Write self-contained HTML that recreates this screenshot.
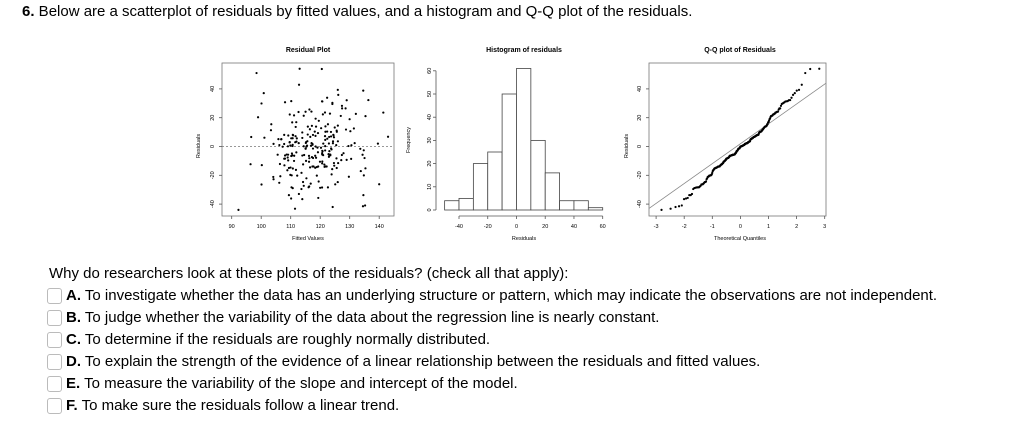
<!DOCTYPE html>
<html><head><meta charset="utf-8">
<style>
body{margin:0;width:1024px;height:436px;background:#fff;font-family:"Liberation Sans",Arial,sans-serif;color:#000;position:relative;overflow:hidden}
.t{position:absolute;white-space:nowrap}
.cb{position:absolute;left:47px;width:13px;height:14px;border:1px solid #bbb;border-radius:3px;background:#fff}
svg{position:absolute;left:0;top:0}
</style></head><body>
<div class="t" style="left:22px;top:3px;font-size:15px;"><b>6.</b> Below are a scatterplot of residuals by fitted values, and a histogram and Q-Q plot of the residuals.</div>
<div class="t" style="left:49px;top:265px;font-size:15px;">Why do researchers look at these plots of the residuals? (check all that apply):</div>
<div class="cb" style="top:288px"></div><div class="t" style="left:66px;top:287px;font-size:15px;"><b>A.</b> To investigate whether the data has an underlying structure or pattern, which may indicate the observations are not independent.</div>
<div class="cb" style="top:310px"></div><div class="t" style="left:66px;top:309px;font-size:15px;"><b>B.</b> To judge whether the variability of the data about the regression line is nearly constant.</div>
<div class="cb" style="top:332px"></div><div class="t" style="left:66px;top:331px;font-size:15px;"><b>C.</b> To determine if the residuals are roughly normally distributed.</div>
<div class="cb" style="top:354px"></div><div class="t" style="left:66px;top:353px;font-size:15px;"><b>D.</b> To explain the strength of the evidence of a linear relationship between the residuals and fitted values.</div>
<div class="cb" style="top:376px"></div><div class="t" style="left:66px;top:375px;font-size:15px;"><b>E.</b> To measure the variability of the slope and intercept of the model.</div>
<div class="cb" style="top:398px"></div><div class="t" style="left:66px;top:397px;font-size:15px;"><b>F.</b> To make sure the residuals follow a linear trend.</div>
<svg id="s" width="1024" height="260" font-family="Liberation Sans, Arial, sans-serif"></svg>
<script>
var S=document.getElementById('s'),h='';
function T(x,y,s,fs,extra){h+='<text x="'+x+'" y="'+y+'" font-size="'+fs+'" text-anchor="middle" '+(extra||'')+'>'+s+'</text>';}
function L(a,b,c,d,st){h+='<line x1="'+a+'" y1="'+b+'" x2="'+c+'" y2="'+d+'" stroke="'+(st||'#555')+'" stroke-width="0.8"/>';}
var seed=7;function R(){seed=(seed*16807)%2147483647;return (seed-1)/2147483646;}
function N(){var u=R()||1e-9,v=R();return Math.sqrt(-2*Math.log(u))*Math.cos(2*Math.PI*v);}
var n=250,fv=[],rs=[];
for(var i=0;i<n;i++){fv.push(118+9.5*N());var r=17.5*N();r=Math.max(-44,Math.min(54,r));rs.push(r);}
var fx=function(v){return 231.7+(v-90)*2.95},ry=function(v){return 146.5-v*1.44};
T(308,52,'Residual Plot',7,'font-weight="bold"');
h+='<rect x="222" y="63" width="172" height="153" fill="none" stroke="#777" stroke-width="0.8"/>';
h+='<line x1="222" y1="146.5" x2="394" y2="146.5" stroke="#777" stroke-width="0.8" stroke-dasharray="2,2"/>';
[90,100,110,120,130,140].forEach(function(v){var x=fx(v);L(x,216,x,219);T(x,228,v,5.5);});
[-40,-20,0,20,40].forEach(function(v){var y=ry(v);L(219,y,222,y);h+='<text x="212" y="'+y+'" font-size="5.5" text-anchor="middle" transform="rotate(-90 212 '+y+')" dy="2">'+v+'</text>';});
T(308,240,'Fitted Values',5.5);h+='<text x="200" y="146" font-size="5.5" text-anchor="middle" transform="rotate(-90 200 146)">Residuals</text>';
for(i=0;i<n;i++){var x=fx(Math.max(88,Math.min(143,fv[i])));h+='<circle cx="'+x+'" cy="'+ry(rs[i])+'" r="1.1"/>';}
var cnt=[4,5,20,25,50,61,30,16,4,4,1];
var hx=function(v){return 459+(v+40)*1.437},hy=function(v){return 210-v*2.32};
T(524,52,'Histogram of residuals',7,'font-weight="bold"');
for(i=0;i<11;i++){var x0=hx(-50+i*10);h+='<rect x="'+x0+'" y="'+hy(cnt[i])+'" width="14.37" height="'+(cnt[i]*2.32)+'" fill="#fff" stroke="#444" stroke-width="0.8"/>';}
L(hx(-40),216,hx(60),216);
[-40,-20,0,20,40,60].forEach(function(v){var x=hx(v);L(x,216,x,219);T(x,228,v,5.5);});
L(436,210,436,hy(60));
[0,10,20,30,40,50,60].forEach(function(v){var y=hy(v);L(433,y,436,y);h+='<text x="429" y="'+y+'" font-size="5.5" text-anchor="middle" transform="rotate(-90 429 '+y+')" dy="2">'+v+'</text>';});
T(524,240,'Residuals',5.5);h+='<text x="410" y="140" font-size="5.5" text-anchor="middle" transform="rotate(-90 410 140)">Frequency</text>';
var qx=function(v){return 740.4+v*28.1};
T(740,52,'Q-Q plot of Residuals',7,'font-weight="bold"');
h+='<rect x="649" y="63" width="177" height="153" fill="none" stroke="#777" stroke-width="0.8"/>';
[-3,-2,-1,0,1,2,3].forEach(function(v){var x=qx(v);L(x,216,x,219);T(x,228,v,5.5);});
[-40,-20,0,20,40].forEach(function(v){var y=ry(v);L(646,y,649,y);h+='<text x="639" y="'+y+'" font-size="5.5" text-anchor="middle" transform="rotate(-90 639 '+y+')" dy="2">'+v+'</text>';});
T(740,240,'Theoretical Quantiles',5.5);h+='<text x="628" y="146" font-size="5.5" text-anchor="middle" transform="rotate(-90 628 146)">Residuals</text>';
h+='<line x1="649" y1="'+ry(-43)+'" x2="826" y2="'+ry(44)+'" stroke="#888" stroke-width="0.8"/>';
function qn(p){var a=[-39.696830,220.946098,-275.928510,138.357751,-30.664798,2.506628],b=[-54.476098,161.585836,-155.698979,66.801311,-13.280681],c=[-0.007784894,-0.322396,-2.400758,-2.549732,4.374664,2.938163],d=[0.007784695,0.322467,2.445134,3.754408],q,r;
if(p<0.02425){q=Math.sqrt(-2*Math.log(p));return (((((c[0]*q+c[1])*q+c[2])*q+c[3])*q+c[4])*q+c[5])/((((d[0]*q+d[1])*q+d[2])*q+d[3])*q+1);}
if(p>0.97575){return -qn(1-p);}q=p-0.5;r=q*q;return (((((a[0]*r+a[1])*r+a[2])*r+a[3])*r+a[4])*r+a[5])*q/(((((b[0]*r+b[1])*r+b[2])*r+b[3])*r+b[4])*r+1);}
var sr=rs.slice().sort(function(a,b){return a-b});
for(i=0;i<n;i++){var z=qn((i+0.625)/(n+0.25));h+='<circle cx="'+qx(z)+'" cy="'+ry(sr[i])+'" r="1.1"/>';}
S.innerHTML=h;
</script>
</body></html>
